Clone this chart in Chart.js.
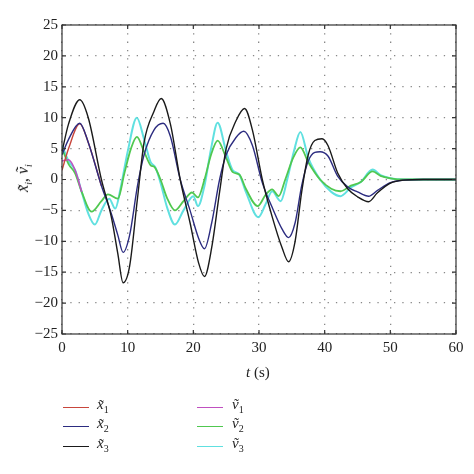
<!DOCTYPE html>
<html><head><meta charset="utf-8">
<script src="https://cdn.jsdelivr.net/npm/chart.js@4"></script>
<style>
html,body{margin:0;padding:0;background:#fff;}
#wrap{position:relative;width:474px;height:474px;font-family:"Liberation Serif","DejaVu Serif",serif;color:#222;}
canvas{position:absolute;left:0;top:0;}
.lbl{position:absolute;font-size:15px;white-space:nowrap;}
.it{font-style:italic;}
.leg{position:absolute;width:26px;height:0;border-top:1.5px solid;}
sub{font-size:10px;font-style:normal;}
</style></head><body>
<div id="wrap">
<canvas id="c" width="474" height="474"></canvas>
<div class="lbl" style="left:-6px;top:168px;transform:rotate(-90deg);transform-origin:center;width:60px;text-align:center;font-size:16px;color:#111;"><span class="it">x̃</span><sub><i>i</i></sub>, <span class="it">ṽ</span><sub><i>i</i></sub></div>
<div class="lbl" style="left:246px;top:364px;"><span class="it">t</span> (s)</div>
<div class="leg" style="left:63px;top:407px;border-color:#c8463c"></div>
<div class="lbl" style="left:97px;top:396px;"><span class="it">x̃</span><sub>1</sub></div>
<div class="leg" style="left:63px;top:426px;border-color:#2c2c80"></div>
<div class="lbl" style="left:97px;top:415px;"><span class="it">x̃</span><sub>2</sub></div>
<div class="leg" style="left:63px;top:446px;border-color:#1a1a1a"></div>
<div class="lbl" style="left:97px;top:435px;"><span class="it">x̃</span><sub>3</sub></div>
<div class="leg" style="left:197px;top:407px;border-color:#c050c0"></div>
<div class="lbl" style="left:232px;top:396px;"><span class="it">ṽ</span><sub>1</sub></div>
<div class="leg" style="left:197px;top:426px;border-color:#50c850"></div>
<div class="lbl" style="left:232px;top:415px;"><span class="it">ṽ</span><sub>2</sub></div>
<div class="leg" style="left:197px;top:446px;border-color:#60e0e0"></div>
<div class="lbl" style="left:232px;top:435px;"><span class="it">ṽ</span><sub>3</sub></div>
</div>
<script>
const yTicks=[-25,-20,-15,-10,-5,0,5,10,15,20,25];
const xTicks=[0,10,20,30,40,50,60];

const tX3=[0,1,2.7,4,6,7.5,8.5,9.3,10.3,11.5,12.5,14,15.1,16.5,18,19.5,20.8,21.7,22.8,24,25,26.5,27.8,29,30.5,32,33.5,34.5,35.5,36.5,37.5,38.5,39.6,40.5,42,43.5,45,46.7,48,50,52,55,60];
const yX3=[4.5,9,12.9,10,0,-6,-12,-16.7,-14,-3,6,11,13.1,9,0,-7,-13.5,-15.7,-11,-2,5,9.5,11.5,8,0,-6,-11,-13.3,-10,-2,4,6.3,6.6,5.5,1,-1.5,-2.8,-3.6,-2.2,-0.6,-0.1,0,0];
const tX2=[0,1,2.7,4,6,7.5,8.5,9.3,10.3,11.5,12.5,14,15.4,16.5,18,19.5,20.8,21.7,22.8,24,25,26.5,27.7,29,30.5,32,33.5,34.5,35.5,36.5,37.5,38.5,39.3,40.5,42,43.5,45,46.7,48,50,52,55,60];
const yX2=[4,6.5,9.1,6,-1,-5.5,-9,-11.8,-9,-1,4,8,9.1,7,0,-5,-9.5,-11.2,-7,0,4,6.8,7.8,5.5,-0.5,-4.5,-8,-9.4,-7,-1,3,4.4,4.5,3.8,0.5,-1.2,-2,-2.7,-1.8,-0.5,-0.1,0,0];
const tX1=[0,1,2.7,4,6];
const yX1=[1.5,5,9,6,-1];
const tV2=[0,1,2,3,4.5,6,7,8.5,9.5,10.5,11.4,12.5,13.5,14.1,15,16,17.2,18.5,19.8,20.7,21.7,22.7,23.7,25,26,27,28,29.8,31,32,33,34,35.2,36.3,37.5,39.3,41,42.4,44,45.5,47.3,48.5,50,52,60];
const yV2=[5,2.5,1,-2,-5.2,-3.5,-2.4,-3.1,1,5,6.9,4.5,2.3,2,0,-3,-5,-3.5,-2.1,-2.9,0,4,6.3,3.5,1.2,0.8,-1.5,-4.3,-2.5,-1.6,-2.7,0,3.5,5.2,2.8,0,-1.5,-1.9,-1,-0.4,1.3,0.6,0.2,0,0];
const tV3=[0,1,2,3,4,5,6,7.2,8.1,9,10,11.4,12.5,13.5,14.2,15,16,17.2,18.5,20,20.7,21.7,22.7,23.7,25,26,27,28,29.9,31,32,33.3,34.3,35.3,36.3,37.5,39.3,41,42.4,44,45.5,47.3,48.5,50,52,60];
const yV3=[5.5,3,1.5,-2,-5.5,-7.3,-5,-3.1,-4.7,-1,4.5,10,6.5,2.8,2,-0.5,-4.5,-7.3,-5,-2.7,-4.3,-1,5,9.2,4.5,1.5,0.8,-2,-6.1,-4,-1.9,-3.5,0,4.5,7.7,3.5,0,-2,-2.7,-1.3,-0.4,1.6,0.7,0.2,0,0];
const tV1=[0,1,2,3];
const yV1=[3,3.2,1.5,-2];

const pts=(t,y)=>t.map((v,i)=>({x:v,y:y[i]}));
const ds=(t,y,c,w,o)=>({data:pts(t,y),borderColor:c,borderWidth:w,pointRadius:0,fill:false,cubicInterpolationMode:'monotone',order:o});

const frame={id:'frame',afterDraw(ch){
  const a=ch.chartArea,c=ch.ctx;c.save();c.strokeStyle='#333';c.lineWidth=1.2;
  c.strokeRect(a.left,a.top,a.right-a.left,a.bottom-a.top);
  const xs=ch.scales.x,ys=ch.scales.y;
  c.beginPath();
  xTicks.forEach(v=>{const p=xs.getPixelForValue(v);c.moveTo(p,a.bottom);c.lineTo(p,a.bottom-4);c.moveTo(p,a.top);c.lineTo(p,a.top+4);});
  yTicks.forEach(v=>{const p=ys.getPixelForValue(v);c.moveTo(a.left,p);c.lineTo(a.left+4,p);c.moveTo(a.right,p);c.lineTo(a.right-4,p);});
  c.stroke();c.restore();}};

new Chart(document.getElementById('c'),{type:'line',
 data:{datasets:[
  ds(tX3,yX3,'#1a1a1a',1.4,1),
  ds(tX2,yX2,'#2c2c80',1.4,2),
  ds(tX1,yX1,'#c8463c',1.4,3),
  ds(tV1,yV1,'#c050c0',1.6,4),
  ds(tV2,yV2,'#50c850',1.8,5),
  ds(tV3,yV3,'#60e0e0',2,6)]},
 options:{responsive:false,animation:false,
  layout:{padding:{left:0,top:25,right:18,bottom:0}},
  plugins:{legend:{display:false},tooltip:{enabled:false}},
  scales:{
   x:{type:'linear',min:0,max:60,afterFit:s=>{s.height=140;},
      afterBuildTicks:s=>{s.ticks=xTicks.map(v=>({value:v}));},
      grid:{color:'#888',lineWidth:1.3,drawTicks:false},border:{display:false,dash:[1.3,7]},
      ticks:{color:'#222',padding:5,maxRotation:0,font:{family:'"Liberation Serif",serif',size:15}}},
   y:{min:-25,max:25,afterFit:s=>{s.width=62;},
      afterBuildTicks:s=>{s.ticks=yTicks.map(v=>({value:v}));},
      grid:{color:'#888',lineWidth:1.3,drawTicks:false},border:{display:false,dash:[1.3,7]},
      ticks:{color:'#222',padding:4,font:{family:'"Liberation Serif",serif',size:15},callback:v=>String(v).replace('-','\u2212')}}
  }},
 plugins:[frame]});
</script></body></html>
